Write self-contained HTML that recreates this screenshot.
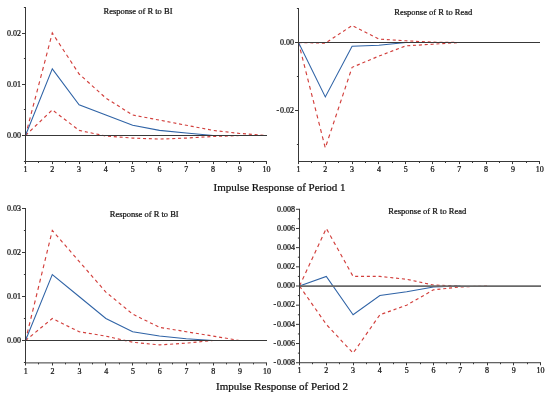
<!DOCTYPE html>
<html><head><meta charset="utf-8"><title>Impulse Response</title>
<style>
html,body{margin:0;padding:0;background:#fff;}
svg{display:block;font-family:"Liberation Serif",serif;}
text{fill:#111;stroke:#111;stroke-width:0.24px;}
</style></head><body>
<svg width="550" height="398" viewBox="0 0 550 398">
<rect width="550" height="398" fill="#ffffff"/>
<path d="M25.50 135.50L26.48 131.76M27.38 128.30L28.36 124.56M29.26 121.11L30.24 117.36M31.14 113.91L32.12 110.17M33.02 106.71L34.00 102.97M34.90 99.52L35.88 95.78M36.79 92.32L37.76 88.58M38.67 85.12L39.64 81.38M40.55 77.93L41.53 74.19M42.43 70.73L43.41 66.99M44.31 63.54L45.29 59.79M46.19 56.34L47.17 52.60M48.07 49.14L49.05 45.40M49.95 41.95L50.93 38.20M51.83 34.75L52.29 33.00L53.34 34.60M55.16 37.39L57.12 40.40M58.94 43.18L60.91 46.19M62.73 48.97L64.70 51.99M66.51 54.77L68.48 57.78M70.30 60.56L72.27 63.57M74.08 66.35L76.05 69.37M77.87 72.15L79.08 74.00L80.04 74.87M82.35 76.94L84.85 79.19M87.16 81.27L89.67 83.52M91.97 85.59L94.48 87.84M96.78 89.92L99.29 92.17M101.59 94.24L104.10 96.49M106.46 98.46L109.19 100.18M111.72 101.78L114.45 103.51M116.98 105.10L119.71 106.83M122.24 108.42L124.98 110.15M127.50 111.74L130.24 113.47M132.77 115.02L135.78 115.60M138.56 116.13L141.57 116.70M144.35 117.24L147.36 117.81M150.14 118.34L153.15 118.92M155.92 119.45L158.93 120.03M161.71 120.56L164.72 121.13M167.50 121.66L170.51 122.24M173.29 122.77L176.30 123.35M179.07 123.88L182.08 124.45M184.86 124.99L186.24 125.25L187.87 125.56M190.65 126.09L193.66 126.67M196.44 127.20L199.45 127.78M202.23 128.31L205.23 128.88M208.01 129.42L211.02 129.99M213.81 130.46L216.84 130.81M219.63 131.13L222.66 131.48M225.46 131.80L228.49 132.15M231.29 132.47L234.32 132.82M237.11 133.14L239.82 133.45L240.15 133.47M242.95 133.69L245.99 133.92M248.79 134.14L251.83 134.37M254.63 134.58L257.67 134.82M260.47 135.03L263.51 135.26M266.31 135.48L266.61 135.50" fill="none" stroke="#d23f3c" stroke-width="1.15" stroke-linejoin="miter"/>
<path d="M25.50 135.50L27.95 133.16M30.21 130.99L32.66 128.65M34.92 126.49L37.37 124.14M39.63 121.98L42.08 119.64M44.34 117.48L46.79 115.13M49.05 112.97L51.50 110.63M53.87 111.08L56.49 113.09M58.91 114.94L61.53 116.95M63.95 118.80L66.57 120.80M68.99 122.65L71.61 124.66M74.03 126.51L76.65 128.52M79.07 130.37L79.08 130.38L82.07 131.00M84.85 131.59L87.85 132.22M90.62 132.80L93.62 133.44M96.39 134.02L99.40 134.65M102.17 135.23L105.17 135.87M107.97 136.17L111.00 136.41M113.81 136.62L116.84 136.85M119.65 137.07L122.68 137.30M125.49 137.51L128.52 137.75M131.33 137.96L132.66 138.06L134.37 138.13M137.17 138.24L140.21 138.35M143.02 138.46L146.06 138.58M148.87 138.68L151.91 138.80M154.72 138.91L157.76 139.02M160.56 139.04L163.60 138.93M166.41 138.82L169.45 138.70M172.26 138.60L175.30 138.48M178.10 138.37L181.15 138.26M183.95 138.15L186.24 138.06L186.99 138.02M189.80 137.86L192.84 137.68M195.64 137.52L198.68 137.35M201.49 137.19L204.53 137.01M207.33 136.85L210.37 136.68M213.18 136.52L216.22 136.40M219.02 136.30L222.06 136.18M224.87 136.07L227.91 135.96M230.72 135.85L233.76 135.73M236.57 135.62L239.61 135.51" fill="none" stroke="#d23f3c" stroke-width="1.15" stroke-linejoin="miter"/>
<polyline points="25.50,135.50 52.29,68.88 79.08,104.75 105.87,115.00 132.66,125.25 159.45,130.38 186.24,132.94 213.03,135.50" fill="none" stroke="#2f63a6" stroke-width="1.05" stroke-linejoin="miter"/>
<line stroke-linecap="butt" x1="25.50" y1="135.50" x2="267.00" y2="135.50" stroke="#383838" stroke-width="1.0" />
<line stroke-linecap="butt" x1="25.50" y1="7.00" x2="25.50" y2="162.00" stroke="#383838" stroke-width="1.0" />
<line stroke-linecap="butt" x1="25.00" y1="161.50" x2="267.00" y2="161.50" stroke="#383838" stroke-width="1.0" />
<line stroke-linecap="butt" x1="25.50" y1="161.50" x2="25.50" y2="164.10" stroke="#383838" stroke-width="1.0" />
<text x="25.50" y="172.10" font-size="8" text-anchor="middle">1</text>
<line stroke-linecap="butt" x1="38.50" y1="161.50" x2="38.50" y2="163.00" stroke="#383838" stroke-width="1.0" />
<line stroke-linecap="butt" x1="52.50" y1="161.50" x2="52.50" y2="164.10" stroke="#383838" stroke-width="1.0" />
<text x="52.29" y="172.10" font-size="8" text-anchor="middle">2</text>
<line stroke-linecap="butt" x1="65.50" y1="161.50" x2="65.50" y2="163.00" stroke="#383838" stroke-width="1.0" />
<line stroke-linecap="butt" x1="79.50" y1="161.50" x2="79.50" y2="164.10" stroke="#383838" stroke-width="1.0" />
<text x="79.08" y="172.10" font-size="8" text-anchor="middle">3</text>
<line stroke-linecap="butt" x1="92.50" y1="161.50" x2="92.50" y2="163.00" stroke="#383838" stroke-width="1.0" />
<line stroke-linecap="butt" x1="105.50" y1="161.50" x2="105.50" y2="164.10" stroke="#383838" stroke-width="1.0" />
<text x="105.87" y="172.10" font-size="8" text-anchor="middle">4</text>
<line stroke-linecap="butt" x1="119.50" y1="161.50" x2="119.50" y2="163.00" stroke="#383838" stroke-width="1.0" />
<line stroke-linecap="butt" x1="132.50" y1="161.50" x2="132.50" y2="164.10" stroke="#383838" stroke-width="1.0" />
<text x="132.66" y="172.10" font-size="8" text-anchor="middle">5</text>
<line stroke-linecap="butt" x1="146.50" y1="161.50" x2="146.50" y2="163.00" stroke="#383838" stroke-width="1.0" />
<line stroke-linecap="butt" x1="159.50" y1="161.50" x2="159.50" y2="164.10" stroke="#383838" stroke-width="1.0" />
<text x="159.45" y="172.10" font-size="8" text-anchor="middle">6</text>
<line stroke-linecap="butt" x1="172.50" y1="161.50" x2="172.50" y2="163.00" stroke="#383838" stroke-width="1.0" />
<line stroke-linecap="butt" x1="186.50" y1="161.50" x2="186.50" y2="164.10" stroke="#383838" stroke-width="1.0" />
<text x="186.24" y="172.10" font-size="8" text-anchor="middle">7</text>
<line stroke-linecap="butt" x1="199.50" y1="161.50" x2="199.50" y2="163.00" stroke="#383838" stroke-width="1.0" />
<line stroke-linecap="butt" x1="213.50" y1="161.50" x2="213.50" y2="164.10" stroke="#383838" stroke-width="1.0" />
<text x="213.03" y="172.10" font-size="8" text-anchor="middle">8</text>
<line stroke-linecap="butt" x1="226.50" y1="161.50" x2="226.50" y2="163.00" stroke="#383838" stroke-width="1.0" />
<line stroke-linecap="butt" x1="239.50" y1="161.50" x2="239.50" y2="164.10" stroke="#383838" stroke-width="1.0" />
<text x="239.82" y="172.10" font-size="8" text-anchor="middle">9</text>
<line stroke-linecap="butt" x1="253.50" y1="161.50" x2="253.50" y2="163.00" stroke="#383838" stroke-width="1.0" />
<line stroke-linecap="butt" x1="266.50" y1="161.50" x2="266.50" y2="164.10" stroke="#383838" stroke-width="1.0" />
<text x="266.61" y="172.10" font-size="8" text-anchor="middle">10</text>
<line stroke-linecap="butt" x1="23.90" y1="161.50" x2="25.50" y2="161.50" stroke="#383838" stroke-width="1.0" />
<line stroke-linecap="butt" x1="22.00" y1="135.50" x2="25.50" y2="135.50" stroke="#383838" stroke-width="1.0" />
<text x="20.90" y="137.80" font-size="8" text-anchor="end">0.00</text>
<line stroke-linecap="butt" x1="23.90" y1="109.50" x2="25.50" y2="109.50" stroke="#383838" stroke-width="1.0" />
<line stroke-linecap="butt" x1="22.00" y1="84.50" x2="25.50" y2="84.50" stroke="#383838" stroke-width="1.0" />
<text x="20.90" y="86.80" font-size="8" text-anchor="end">0.01</text>
<line stroke-linecap="butt" x1="23.90" y1="58.50" x2="25.50" y2="58.50" stroke="#383838" stroke-width="1.0" />
<line stroke-linecap="butt" x1="22.00" y1="33.50" x2="25.50" y2="33.50" stroke="#383838" stroke-width="1.0" />
<text x="20.90" y="35.80" font-size="8" text-anchor="end">0.02</text>
<line stroke-linecap="butt" x1="23.90" y1="7.50" x2="25.50" y2="7.50" stroke="#383838" stroke-width="1.0" />
<text x="138.00" y="14.10" font-size="8.5" text-anchor="middle">Response of R to BI</text>
<path d="M298.50 42.50L301.54 42.58M304.35 42.65L307.39 42.73M310.20 42.80L313.24 42.87M316.05 42.95L319.09 43.02M321.90 43.09L324.94 43.17M327.48 41.74L330.19 39.95M332.70 38.30L335.41 36.51M337.91 34.86L340.62 33.07M343.13 31.42L345.84 29.63M348.34 27.98L351.06 26.19M353.63 26.27L356.46 27.71M359.07 29.04L361.91 30.48M364.52 31.80L367.36 33.24M369.97 34.57L372.81 36.01M375.42 37.33L378.26 38.77M381.01 39.23L384.05 39.43M386.86 39.60L389.89 39.80M392.70 39.98L395.74 40.17M398.54 40.35L401.58 40.54M404.39 40.72L405.70 40.80L407.42 40.89M410.23 41.03L413.27 41.18M416.08 41.33L419.12 41.48M421.92 41.62L424.96 41.78M427.77 41.92L430.81 42.07M433.61 42.17L436.65 42.21M439.46 42.25L442.50 42.29M445.31 42.32L448.35 42.36M451.16 42.40L454.20 42.44M457.01 42.47L459.30 42.50" fill="none" stroke="#d23f3c" stroke-width="1.15" stroke-linejoin="miter"/>
<path d="M298.50 42.50L299.45 46.25M300.33 49.72L301.29 53.47M302.17 56.93L303.12 60.69M304.00 64.15L304.96 67.90M305.84 71.37L306.79 75.12M307.67 78.58L308.63 82.33M309.51 85.80L310.46 89.55M311.34 93.02L312.30 96.77M313.18 100.23L314.13 103.98M315.01 107.45L315.97 111.20M316.85 114.66L317.80 118.42M318.68 121.88L319.64 125.63M320.52 129.10L321.47 132.85M322.35 136.31L323.31 140.07M324.19 143.53L325.14 147.28M326.22 145.15L327.42 141.52M328.54 138.17L329.74 134.54M330.86 131.19L332.06 127.57M333.18 124.22L334.38 120.59M335.50 117.24L336.70 113.61M337.82 110.26L339.02 106.64M340.14 103.29L341.34 99.66M342.46 96.31L343.66 92.68M344.78 89.33L345.98 85.71M347.10 82.36L348.31 78.73M349.42 75.38L350.63 71.75M351.74 68.41L352.10 67.32L354.13 66.47M356.80 65.35L359.70 64.14M362.37 63.02L365.27 61.81M367.94 60.69L370.83 59.48M373.51 58.36L376.40 57.15M379.08 56.03L381.99 54.92M384.69 53.90L387.61 52.79M390.30 51.76L393.22 50.65M395.92 49.62L398.84 48.51M401.53 47.49L404.45 46.38M407.20 45.80L410.24 45.61M413.05 45.43L416.09 45.24M418.89 45.06L421.93 44.87M424.73 44.69L427.77 44.50M430.58 44.32L432.50 44.20L433.62 44.13M436.42 43.95L439.46 43.76M442.26 43.58L445.30 43.39M448.11 43.21L451.14 43.02M453.95 42.84L456.99 42.65" fill="none" stroke="#d23f3c" stroke-width="1.15" stroke-linejoin="miter"/>
<polyline points="298.50,42.50 325.30,96.90 352.10,46.24 378.90,45.22 405.70,42.50 432.50,42.50" fill="none" stroke="#2f63a6" stroke-width="1.05" stroke-linejoin="miter"/>
<line stroke-linecap="butt" x1="298.50" y1="42.50" x2="540.00" y2="42.50" stroke="#383838" stroke-width="1.0" />
<line stroke-linecap="butt" x1="298.50" y1="8.00" x2="298.50" y2="162.00" stroke="#383838" stroke-width="1.0" />
<line stroke-linecap="butt" x1="298.00" y1="161.50" x2="540.00" y2="161.50" stroke="#383838" stroke-width="1.0" />
<line stroke-linecap="butt" x1="298.50" y1="161.50" x2="298.50" y2="164.10" stroke="#383838" stroke-width="1.0" />
<text x="298.50" y="172.10" font-size="8" text-anchor="middle">1</text>
<line stroke-linecap="butt" x1="311.50" y1="161.50" x2="311.50" y2="163.00" stroke="#383838" stroke-width="1.0" />
<line stroke-linecap="butt" x1="325.50" y1="161.50" x2="325.50" y2="164.10" stroke="#383838" stroke-width="1.0" />
<text x="325.30" y="172.10" font-size="8" text-anchor="middle">2</text>
<line stroke-linecap="butt" x1="338.50" y1="161.50" x2="338.50" y2="163.00" stroke="#383838" stroke-width="1.0" />
<line stroke-linecap="butt" x1="352.50" y1="161.50" x2="352.50" y2="164.10" stroke="#383838" stroke-width="1.0" />
<text x="352.10" y="172.10" font-size="8" text-anchor="middle">3</text>
<line stroke-linecap="butt" x1="365.50" y1="161.50" x2="365.50" y2="163.00" stroke="#383838" stroke-width="1.0" />
<line stroke-linecap="butt" x1="378.50" y1="161.50" x2="378.50" y2="164.10" stroke="#383838" stroke-width="1.0" />
<text x="378.90" y="172.10" font-size="8" text-anchor="middle">4</text>
<line stroke-linecap="butt" x1="392.50" y1="161.50" x2="392.50" y2="163.00" stroke="#383838" stroke-width="1.0" />
<line stroke-linecap="butt" x1="405.50" y1="161.50" x2="405.50" y2="164.10" stroke="#383838" stroke-width="1.0" />
<text x="405.70" y="172.10" font-size="8" text-anchor="middle">5</text>
<line stroke-linecap="butt" x1="419.50" y1="161.50" x2="419.50" y2="163.00" stroke="#383838" stroke-width="1.0" />
<line stroke-linecap="butt" x1="432.50" y1="161.50" x2="432.50" y2="164.10" stroke="#383838" stroke-width="1.0" />
<text x="432.50" y="172.10" font-size="8" text-anchor="middle">6</text>
<line stroke-linecap="butt" x1="445.50" y1="161.50" x2="445.50" y2="163.00" stroke="#383838" stroke-width="1.0" />
<line stroke-linecap="butt" x1="459.50" y1="161.50" x2="459.50" y2="164.10" stroke="#383838" stroke-width="1.0" />
<text x="459.30" y="172.10" font-size="8" text-anchor="middle">7</text>
<line stroke-linecap="butt" x1="472.50" y1="161.50" x2="472.50" y2="163.00" stroke="#383838" stroke-width="1.0" />
<line stroke-linecap="butt" x1="486.50" y1="161.50" x2="486.50" y2="164.10" stroke="#383838" stroke-width="1.0" />
<text x="486.10" y="172.10" font-size="8" text-anchor="middle">8</text>
<line stroke-linecap="butt" x1="499.50" y1="161.50" x2="499.50" y2="163.00" stroke="#383838" stroke-width="1.0" />
<line stroke-linecap="butt" x1="512.50" y1="161.50" x2="512.50" y2="164.10" stroke="#383838" stroke-width="1.0" />
<text x="512.90" y="172.10" font-size="8" text-anchor="middle">9</text>
<line stroke-linecap="butt" x1="526.50" y1="161.50" x2="526.50" y2="163.00" stroke="#383838" stroke-width="1.0" />
<line stroke-linecap="butt" x1="539.50" y1="161.50" x2="539.50" y2="164.10" stroke="#383838" stroke-width="1.0" />
<text x="539.70" y="172.10" font-size="8" text-anchor="middle">10</text>
<line stroke-linecap="butt" x1="296.90" y1="144.50" x2="298.50" y2="144.50" stroke="#383838" stroke-width="1.0" />
<line stroke-linecap="butt" x1="295.00" y1="110.50" x2="298.50" y2="110.50" stroke="#383838" stroke-width="1.0" />
<text x="293.90" y="112.80" font-size="8" text-anchor="end">0.02</text>
<text x="279.20" y="112.80" font-size="8" text-anchor="end">-</text>
<line stroke-linecap="butt" x1="296.90" y1="76.50" x2="298.50" y2="76.50" stroke="#383838" stroke-width="1.0" />
<line stroke-linecap="butt" x1="295.00" y1="42.50" x2="298.50" y2="42.50" stroke="#383838" stroke-width="1.0" />
<text x="293.90" y="44.80" font-size="8" text-anchor="end">0.00</text>
<line stroke-linecap="butt" x1="296.90" y1="8.50" x2="298.50" y2="8.50" stroke="#383838" stroke-width="1.0" />
<text x="433.30" y="15.20" font-size="8.5" text-anchor="middle">Response of R to Read</text>
<path d="M25.50 340.50L26.42 336.73M27.26 333.25L28.18 329.49M29.03 326.01L29.95 322.24M30.79 318.76L31.71 314.99M32.56 311.52L33.48 307.75M34.32 304.27L35.24 300.50M36.09 297.02L37.01 293.26M37.85 289.78L38.77 286.01M39.62 282.53L40.54 278.76M41.38 275.29L42.30 271.52M43.15 268.04L44.06 264.27M44.91 260.79L45.83 257.03M46.68 253.55L47.59 249.78M48.44 246.30L49.36 242.53M50.21 239.06L51.12 235.29M51.97 231.81L52.29 230.50L53.78 232.21M55.88 234.63L58.16 237.24M60.26 239.66L62.54 242.28M64.64 244.70L66.92 247.32M69.02 249.74L71.30 252.35M73.40 254.77L75.68 257.39M77.78 259.81L79.08 261.30L80.06 262.43M82.16 264.85L84.44 267.46M86.54 269.88L88.82 272.50M90.93 274.92L93.20 277.54M95.31 279.96L97.58 282.57M99.69 284.99L101.97 287.61M104.07 290.03L105.87 292.10L106.41 292.54M108.78 294.49L111.35 296.60M113.73 298.55L116.30 300.66M118.67 302.61L121.24 304.72M123.62 306.67L126.19 308.78M128.56 310.73L131.13 312.85M133.60 314.56L136.44 315.96M139.07 317.26L141.91 318.66M144.54 319.95L147.38 321.35M150.01 322.65L152.85 324.05M155.47 325.34L158.32 326.74M161.04 327.56L164.05 328.06M166.84 328.51L169.86 329.01M172.64 329.47L175.66 329.96M178.45 330.42L181.47 330.92M184.25 331.37L186.24 331.70L187.27 331.87M190.06 332.33L193.07 332.82M195.86 333.28L198.88 333.78M201.66 334.23L204.68 334.73M207.47 335.19L210.48 335.68M213.27 336.14L216.29 336.64M219.07 337.09L222.09 337.59M224.88 338.05L227.90 338.54M230.68 339.00L233.70 339.49M236.49 339.95L239.50 340.45" fill="none" stroke="#d23f3c" stroke-width="1.15" stroke-linejoin="miter"/>
<path d="M25.50 340.50L28.07 338.39M30.44 336.44L33.02 334.33M35.39 332.38L37.96 330.27M40.33 328.32L42.91 326.21M45.28 324.26L47.85 322.15M50.22 320.20L52.29 318.50L52.85 318.78M55.48 320.07L58.32 321.47M60.95 322.76L63.79 324.17M66.41 325.46L69.26 326.86M71.88 328.15L74.73 329.56M77.35 330.85L79.08 331.70L80.27 331.89M83.05 332.35L86.07 332.85M88.86 333.31L91.87 333.80M94.66 334.26L97.68 334.75M100.46 335.21L103.48 335.71M106.27 336.19L109.26 336.88M112.03 337.52L115.02 338.20M117.79 338.84L120.78 339.53M123.55 340.16L126.54 340.85M129.31 341.49L132.30 342.18M135.10 342.50L138.13 342.80M140.93 343.08L143.96 343.37M146.76 343.65L149.80 343.95M152.60 344.22L155.63 344.52M158.43 344.80L159.45 344.90L161.47 344.77M164.27 344.58L167.31 344.38M170.11 344.20L173.15 344.00M175.96 343.82L178.99 343.62M181.80 343.43L184.84 343.23M187.64 343.00L190.67 342.70M193.47 342.43L196.51 342.13M199.31 341.85L202.34 341.55M205.14 341.28L208.17 340.98M210.97 340.70L213.03 340.50" fill="none" stroke="#d23f3c" stroke-width="1.15" stroke-linejoin="miter"/>
<polyline points="25.50,340.50 52.29,274.50 79.08,296.50 105.87,318.50 132.66,331.70 159.45,336.10 186.24,338.74 213.03,340.50" fill="none" stroke="#2f63a6" stroke-width="1.05" stroke-linejoin="miter"/>
<line stroke-linecap="butt" x1="25.50" y1="340.50" x2="267.00" y2="340.50" stroke="#383838" stroke-width="1.0" />
<line stroke-linecap="butt" x1="25.50" y1="208.00" x2="25.50" y2="363.40" stroke="#383838" stroke-width="1.0" />
<line stroke-linecap="butt" x1="25.00" y1="362.90" x2="267.00" y2="362.90" stroke="#383838" stroke-width="1.0" />
<line stroke-linecap="butt" x1="25.50" y1="362.90" x2="25.50" y2="365.50" stroke="#383838" stroke-width="1.0" />
<text x="25.80" y="373.70" font-size="8" text-anchor="middle">1</text>
<line stroke-linecap="butt" x1="38.50" y1="362.90" x2="38.50" y2="364.40" stroke="#383838" stroke-width="1.0" />
<line stroke-linecap="butt" x1="52.50" y1="362.90" x2="52.50" y2="365.50" stroke="#383838" stroke-width="1.0" />
<text x="52.59" y="373.70" font-size="8" text-anchor="middle">2</text>
<line stroke-linecap="butt" x1="65.50" y1="362.90" x2="65.50" y2="364.40" stroke="#383838" stroke-width="1.0" />
<line stroke-linecap="butt" x1="79.50" y1="362.90" x2="79.50" y2="365.50" stroke="#383838" stroke-width="1.0" />
<text x="79.38" y="373.70" font-size="8" text-anchor="middle">3</text>
<line stroke-linecap="butt" x1="92.50" y1="362.90" x2="92.50" y2="364.40" stroke="#383838" stroke-width="1.0" />
<line stroke-linecap="butt" x1="105.50" y1="362.90" x2="105.50" y2="365.50" stroke="#383838" stroke-width="1.0" />
<text x="106.17" y="373.70" font-size="8" text-anchor="middle">4</text>
<line stroke-linecap="butt" x1="119.50" y1="362.90" x2="119.50" y2="364.40" stroke="#383838" stroke-width="1.0" />
<line stroke-linecap="butt" x1="132.50" y1="362.90" x2="132.50" y2="365.50" stroke="#383838" stroke-width="1.0" />
<text x="132.96" y="373.70" font-size="8" text-anchor="middle">5</text>
<line stroke-linecap="butt" x1="146.50" y1="362.90" x2="146.50" y2="364.40" stroke="#383838" stroke-width="1.0" />
<line stroke-linecap="butt" x1="159.50" y1="362.90" x2="159.50" y2="365.50" stroke="#383838" stroke-width="1.0" />
<text x="159.75" y="373.70" font-size="8" text-anchor="middle">6</text>
<line stroke-linecap="butt" x1="172.50" y1="362.90" x2="172.50" y2="364.40" stroke="#383838" stroke-width="1.0" />
<line stroke-linecap="butt" x1="186.50" y1="362.90" x2="186.50" y2="365.50" stroke="#383838" stroke-width="1.0" />
<text x="186.54" y="373.70" font-size="8" text-anchor="middle">7</text>
<line stroke-linecap="butt" x1="199.50" y1="362.90" x2="199.50" y2="364.40" stroke="#383838" stroke-width="1.0" />
<line stroke-linecap="butt" x1="213.50" y1="362.90" x2="213.50" y2="365.50" stroke="#383838" stroke-width="1.0" />
<text x="213.33" y="373.70" font-size="8" text-anchor="middle">8</text>
<line stroke-linecap="butt" x1="226.50" y1="362.90" x2="226.50" y2="364.40" stroke="#383838" stroke-width="1.0" />
<line stroke-linecap="butt" x1="239.50" y1="362.90" x2="239.50" y2="365.50" stroke="#383838" stroke-width="1.0" />
<text x="240.12" y="373.70" font-size="8" text-anchor="middle">9</text>
<line stroke-linecap="butt" x1="253.50" y1="362.90" x2="253.50" y2="364.40" stroke="#383838" stroke-width="1.0" />
<line stroke-linecap="butt" x1="266.50" y1="362.90" x2="266.50" y2="365.50" stroke="#383838" stroke-width="1.0" />
<text x="266.91" y="373.70" font-size="8" text-anchor="middle">10</text>
<line stroke-linecap="butt" x1="23.90" y1="362.50" x2="25.50" y2="362.50" stroke="#383838" stroke-width="1.0" />
<line stroke-linecap="butt" x1="22.00" y1="340.50" x2="25.50" y2="340.50" stroke="#383838" stroke-width="1.0" />
<text x="20.90" y="342.80" font-size="8" text-anchor="end">0.00</text>
<line stroke-linecap="butt" x1="23.90" y1="318.50" x2="25.50" y2="318.50" stroke="#383838" stroke-width="1.0" />
<line stroke-linecap="butt" x1="22.00" y1="296.50" x2="25.50" y2="296.50" stroke="#383838" stroke-width="1.0" />
<text x="20.90" y="298.80" font-size="8" text-anchor="end">0.01</text>
<line stroke-linecap="butt" x1="23.90" y1="274.50" x2="25.50" y2="274.50" stroke="#383838" stroke-width="1.0" />
<line stroke-linecap="butt" x1="22.00" y1="252.50" x2="25.50" y2="252.50" stroke="#383838" stroke-width="1.0" />
<text x="20.90" y="254.80" font-size="8" text-anchor="end">0.02</text>
<line stroke-linecap="butt" x1="23.90" y1="230.50" x2="25.50" y2="230.50" stroke="#383838" stroke-width="1.0" />
<line stroke-linecap="butt" x1="22.00" y1="208.50" x2="25.50" y2="208.50" stroke="#383838" stroke-width="1.0" />
<text x="20.90" y="210.80" font-size="8" text-anchor="end">0.03</text>
<text x="144.20" y="216.80" font-size="8.5" text-anchor="middle">Response of R to BI</text>
<path d="M299.50 286.00L301.07 282.62M302.53 279.50L304.10 276.12M305.56 272.99L307.13 269.61M308.58 266.49L310.16 263.11M311.61 259.99L313.19 256.61M314.64 253.49L316.21 250.10M317.67 246.98L319.24 243.60M320.69 240.48L322.27 237.10M323.72 233.98L325.30 230.59M326.81 229.39L328.60 232.59M330.25 235.54L332.03 238.74M333.68 241.69L335.47 244.89M337.12 247.84L338.91 251.04M340.56 254.00L342.34 257.19M343.99 260.15L345.78 263.34M347.43 266.30L349.22 269.49M350.87 272.45L352.65 275.65M355.16 276.41L358.20 276.41M361.01 276.41L364.05 276.41M366.86 276.41L369.90 276.41M372.71 276.41L375.75 276.41M378.56 276.41L379.87 276.41L381.60 276.60M384.40 276.90L387.43 277.22M390.23 277.52L393.26 277.85M396.06 278.15L399.09 278.47M401.89 278.77L404.92 279.10M407.71 279.51L410.71 280.16M413.48 280.75L416.48 281.40M419.25 281.99L422.25 282.64M425.02 283.23L428.02 283.88M430.79 284.47L433.45 285.04L433.80 285.05M436.60 285.15L439.65 285.26M442.45 285.36L445.49 285.47M448.30 285.57L451.34 285.68M454.15 285.78L457.19 285.89M460.00 285.99L460.24 286.00" fill="none" stroke="#d23f3c" stroke-width="1.15" stroke-linejoin="miter"/>
<path d="M299.50 286.00L301.54 288.93M303.43 291.63L305.47 294.56M307.36 297.26L309.41 300.18M311.29 302.89L313.34 305.81M315.22 308.51L317.27 311.44M319.15 314.14L321.20 317.07M323.09 319.77L325.13 322.70M327.12 325.25L329.47 327.77M331.63 330.10L333.98 332.61M336.14 334.94L338.49 337.46M340.65 339.78L342.99 342.30M345.16 344.62L347.50 347.14M349.67 349.47L352.01 351.98M354.04 351.76L356.08 348.83M357.97 346.13L360.01 343.21M361.90 340.50L363.94 337.58M365.83 334.88L367.87 331.95M369.76 329.25L371.80 326.32M373.69 323.62L375.73 320.69M377.62 317.99L379.67 315.06M382.28 313.91L385.22 312.86M387.92 311.89L390.86 310.84M393.56 309.87L396.50 308.82M399.20 307.85L402.14 306.80M404.84 305.83L406.66 305.18L407.72 304.57M410.29 303.10L413.07 301.51M415.64 300.04L418.42 298.44M420.99 296.97L423.78 295.38M426.35 293.90L429.13 292.31M431.70 290.84L433.45 289.84L434.58 289.72M437.37 289.41L440.41 289.09M443.20 288.79L446.24 288.46M449.03 288.16L452.07 287.84M454.86 287.54L457.90 287.21M460.70 286.94L463.74 286.83M466.54 286.73L469.58 286.62M472.39 286.52L475.43 286.42M478.24 286.31L481.28 286.21M484.09 286.11L487.03 286.00" fill="none" stroke="#d23f3c" stroke-width="1.15" stroke-linejoin="miter"/>
<polyline points="299.50,286.00 326.29,276.41 353.08,314.77 379.87,295.59 406.66,291.75 433.45,286.96 460.24,286.00" fill="none" stroke="#2f63a6" stroke-width="1.05" stroke-linejoin="miter"/>
<line stroke-linecap="butt" x1="299.50" y1="286.10" x2="541.00" y2="286.10" stroke="#686868" stroke-width="1.55" />
<line stroke-linecap="butt" x1="299.50" y1="208.78" x2="299.50" y2="363.22" stroke="#383838" stroke-width="1.0" />
<line stroke-linecap="butt" x1="299.00" y1="362.72" x2="541.00" y2="362.72" stroke="#383838" stroke-width="1.0" />
<line stroke-linecap="butt" x1="299.50" y1="362.72" x2="299.50" y2="365.32" stroke="#383838" stroke-width="1.0" />
<text x="299.50" y="373.32" font-size="8" text-anchor="middle">1</text>
<line stroke-linecap="butt" x1="312.50" y1="362.72" x2="312.50" y2="364.22" stroke="#383838" stroke-width="1.0" />
<line stroke-linecap="butt" x1="326.50" y1="362.72" x2="326.50" y2="365.32" stroke="#383838" stroke-width="1.0" />
<text x="326.29" y="373.32" font-size="8" text-anchor="middle">2</text>
<line stroke-linecap="butt" x1="339.50" y1="362.72" x2="339.50" y2="364.22" stroke="#383838" stroke-width="1.0" />
<line stroke-linecap="butt" x1="353.50" y1="362.72" x2="353.50" y2="365.32" stroke="#383838" stroke-width="1.0" />
<text x="353.08" y="373.32" font-size="8" text-anchor="middle">3</text>
<line stroke-linecap="butt" x1="366.50" y1="362.72" x2="366.50" y2="364.22" stroke="#383838" stroke-width="1.0" />
<line stroke-linecap="butt" x1="379.50" y1="362.72" x2="379.50" y2="365.32" stroke="#383838" stroke-width="1.0" />
<text x="379.87" y="373.32" font-size="8" text-anchor="middle">4</text>
<line stroke-linecap="butt" x1="393.50" y1="362.72" x2="393.50" y2="364.22" stroke="#383838" stroke-width="1.0" />
<line stroke-linecap="butt" x1="406.50" y1="362.72" x2="406.50" y2="365.32" stroke="#383838" stroke-width="1.0" />
<text x="406.66" y="373.32" font-size="8" text-anchor="middle">5</text>
<line stroke-linecap="butt" x1="420.50" y1="362.72" x2="420.50" y2="364.22" stroke="#383838" stroke-width="1.0" />
<line stroke-linecap="butt" x1="433.50" y1="362.72" x2="433.50" y2="365.32" stroke="#383838" stroke-width="1.0" />
<text x="433.45" y="373.32" font-size="8" text-anchor="middle">6</text>
<line stroke-linecap="butt" x1="446.50" y1="362.72" x2="446.50" y2="364.22" stroke="#383838" stroke-width="1.0" />
<line stroke-linecap="butt" x1="460.50" y1="362.72" x2="460.50" y2="365.32" stroke="#383838" stroke-width="1.0" />
<text x="460.24" y="373.32" font-size="8" text-anchor="middle">7</text>
<line stroke-linecap="butt" x1="473.50" y1="362.72" x2="473.50" y2="364.22" stroke="#383838" stroke-width="1.0" />
<line stroke-linecap="butt" x1="487.50" y1="362.72" x2="487.50" y2="365.32" stroke="#383838" stroke-width="1.0" />
<text x="487.03" y="373.32" font-size="8" text-anchor="middle">8</text>
<line stroke-linecap="butt" x1="500.50" y1="362.72" x2="500.50" y2="364.22" stroke="#383838" stroke-width="1.0" />
<line stroke-linecap="butt" x1="513.50" y1="362.72" x2="513.50" y2="365.32" stroke="#383838" stroke-width="1.0" />
<text x="513.82" y="373.32" font-size="8" text-anchor="middle">9</text>
<line stroke-linecap="butt" x1="527.50" y1="362.72" x2="527.50" y2="364.22" stroke="#383838" stroke-width="1.0" />
<line stroke-linecap="butt" x1="540.50" y1="362.72" x2="540.50" y2="365.32" stroke="#383838" stroke-width="1.0" />
<text x="540.61" y="373.32" font-size="8" text-anchor="middle">10</text>
<line stroke-linecap="butt" x1="296.00" y1="362.72" x2="299.50" y2="362.72" stroke="#383838" stroke-width="1.0" />
<text x="294.90" y="365.02" font-size="8" text-anchor="end">0.008</text>
<text x="276.20" y="365.02" font-size="8" text-anchor="end">-</text>
<line stroke-linecap="butt" x1="297.90" y1="353.13" x2="299.50" y2="353.13" stroke="#383838" stroke-width="1.0" />
<line stroke-linecap="butt" x1="296.00" y1="343.54" x2="299.50" y2="343.54" stroke="#383838" stroke-width="1.0" />
<text x="294.90" y="345.84" font-size="8" text-anchor="end">0.006</text>
<text x="276.20" y="345.84" font-size="8" text-anchor="end">-</text>
<line stroke-linecap="butt" x1="297.90" y1="333.95" x2="299.50" y2="333.95" stroke="#383838" stroke-width="1.0" />
<line stroke-linecap="butt" x1="296.00" y1="324.36" x2="299.50" y2="324.36" stroke="#383838" stroke-width="1.0" />
<text x="294.90" y="326.66" font-size="8" text-anchor="end">0.004</text>
<text x="276.20" y="326.66" font-size="8" text-anchor="end">-</text>
<line stroke-linecap="butt" x1="297.90" y1="314.77" x2="299.50" y2="314.77" stroke="#383838" stroke-width="1.0" />
<line stroke-linecap="butt" x1="296.00" y1="305.18" x2="299.50" y2="305.18" stroke="#383838" stroke-width="1.0" />
<text x="294.90" y="307.48" font-size="8" text-anchor="end">0.002</text>
<text x="276.20" y="307.48" font-size="8" text-anchor="end">-</text>
<line stroke-linecap="butt" x1="297.90" y1="295.59" x2="299.50" y2="295.59" stroke="#383838" stroke-width="1.0" />
<line stroke-linecap="butt" x1="296.00" y1="286.00" x2="299.50" y2="286.00" stroke="#383838" stroke-width="1.0" />
<text x="294.90" y="288.30" font-size="8" text-anchor="end">0.000</text>
<line stroke-linecap="butt" x1="297.90" y1="276.41" x2="299.50" y2="276.41" stroke="#383838" stroke-width="1.0" />
<line stroke-linecap="butt" x1="296.00" y1="266.82" x2="299.50" y2="266.82" stroke="#383838" stroke-width="1.0" />
<text x="294.90" y="269.12" font-size="8" text-anchor="end">0.002</text>
<line stroke-linecap="butt" x1="297.90" y1="257.23" x2="299.50" y2="257.23" stroke="#383838" stroke-width="1.0" />
<line stroke-linecap="butt" x1="296.00" y1="247.64" x2="299.50" y2="247.64" stroke="#383838" stroke-width="1.0" />
<text x="294.90" y="249.94" font-size="8" text-anchor="end">0.004</text>
<line stroke-linecap="butt" x1="297.90" y1="238.05" x2="299.50" y2="238.05" stroke="#383838" stroke-width="1.0" />
<line stroke-linecap="butt" x1="296.00" y1="228.46" x2="299.50" y2="228.46" stroke="#383838" stroke-width="1.0" />
<text x="294.90" y="230.76" font-size="8" text-anchor="end">0.006</text>
<line stroke-linecap="butt" x1="297.90" y1="218.87" x2="299.50" y2="218.87" stroke="#383838" stroke-width="1.0" />
<line stroke-linecap="butt" x1="296.00" y1="209.28" x2="299.50" y2="209.28" stroke="#383838" stroke-width="1.0" />
<text x="294.90" y="211.58" font-size="8" text-anchor="end">0.008</text>
<text x="427.30" y="214.00" font-size="8.5" text-anchor="middle">Response of R to Read</text>
<text x="279.60" y="190.60" font-size="11" text-anchor="middle">Impulse Response of Period 1</text>
<text x="282.00" y="390.40" font-size="11" text-anchor="middle">Impulse Response of Period 2</text>
</svg>
</body></html>
